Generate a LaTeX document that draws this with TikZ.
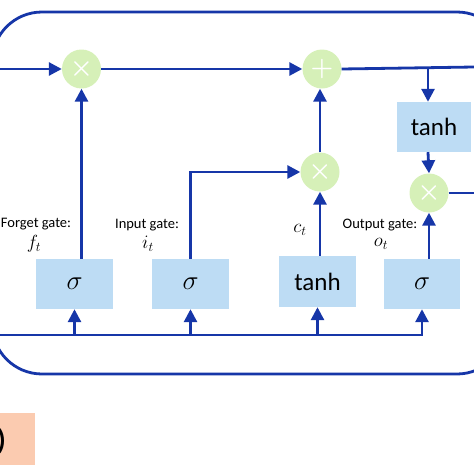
\documentclass[tikz,border=0pt]{standalone}
\usepackage{fix-cm}
\usepackage{fontspec}
\setmainfont{Carlito}
\usetikzlibrary{arrows.meta}
\definecolor{lblue}{HTML}{1636A8}
\definecolor{boxfill}{HTML}{BDDCF4}
\definecolor{circfill}{HTML}{D6F0B8}
\definecolor{peach}{HTML}{FBCBB0}
\begin{document}
\begin{tikzpicture}[x=1pt,y=-1pt,
  wire/.style={draw=lblue,line width=2.8pt},
  arr/.style={wire,-{Triangle[length=13pt,width=13pt]}},
  gatebox/.style={fill=boxfill,draw=none,minimum width=77pt,minimum height=50pt,inner sep=0pt},
  op/.style={circle,fill=circfill,draw=none,minimum size=39pt,inner sep=0pt,text=white,font=\fontsize{26}{28}\selectfont\boldmath},
  lbl/.style={font=\fontsize{14.5}{16}\selectfont,inner sep=0pt},
  mlbl/.style={font=\fontsize{19}{21}\selectfont,inner sep=0pt},
  sigtxt/.style={font=\fontsize{27}{30}\selectfont}]
\useasboundingbox (0,0) rectangle (474,474);
% outer frame
\draw[wire,rounded corners=50pt] (-8,12) rectangle (507,374);
% orange box
\fill[peach] (0,413) rectangle (35,465);
\node[anchor=east,inner sep=0pt,font=\fontsize{28}{30}\selectfont\bfseries] (paren) at (6,441) {)};
% operations
\node[op] (mulf) at (81.5,69) {$\times$};
\node[op] (add) at (322,69) {$+$};
\node[op] (muli) at (320,172) {$\times$};
\node[op] (mulo) at (429,193) {$\times$};
% boxes
\node[gatebox,sigtxt] (sigf) at (74.5,284) {$\sigma$};
\node[gatebox,sigtxt] (sigi) at (190.5,284) {$\sigma$};
\node[gatebox,minimum height=51pt,font=\fontsize{25}{28}\selectfont] (tanhc) at (317.5,281.5) {tanh};
\node[gatebox,sigtxt,minimum width=76pt] (sigo) at (422,284) {$\sigma$};
\node[gatebox,minimum width=74pt,font=\fontsize{25}{28}\selectfont] (tanho) at (434,127) {tanh};
% labels
\node[lbl] (lf) at (36,224) {Forget gate:};
\node[mlbl] (lft) at (34,244) {$f_t$};
\node[lbl] (li) at (147,225) {Input gate:};
\node[mlbl] (lit) at (148,244) {$i_t$};
\node[mlbl] (lct) at (300,230) {$c_t$};
\node[lbl] (lo) at (380,225) {Output gate:};
\node[mlbl] (lot) at (381,244) {$o_t$};
% coordinates
\coordinate (cin) at (0,69);
\coordinate (cout) at (474,67);
\coordinate (hout) at (474,193);
\coordinate (xin) at (0,335);
\coordinate (xend) at (422,335);
\coordinate (br) at (428,68);
\coordinate (ibend) at (190.5,172);
% cell state
\draw[arr] (cin) -- (mulf.west);
\draw[arr] (mulf.east) -- (add.west);
\draw[wire] (add.east) -- (cout);
\draw[arr] (br) -- (br |- tanho.north);
\draw[arr] (br |- tanho.south) -- (mulo.north);
\draw[wire] (mulo.east) -- (hout);
% gates
\draw[arr] (sigf.north -| mulf) -- (mulf.south);
\draw[arr] (sigi.north) -- (ibend) -- (muli.west);
\draw[arr] (tanhc.north -| muli) -- (muli.south);
\draw[arr] (muli.north) -- (muli.north |- add.south);
\draw[arr] (sigo.north -| mulo) -- (mulo.south);
% input line
\draw[arr] (xin) -- (xend) -- (sigo.south);
\draw[arr] (sigf.south |- xin) -- (sigf.south);
\draw[arr] (sigi.south |- xin) -- (sigi.south);
\draw[arr] (tanhc.south |- xin) -- (tanhc.south);
\end{tikzpicture}
\end{document}
